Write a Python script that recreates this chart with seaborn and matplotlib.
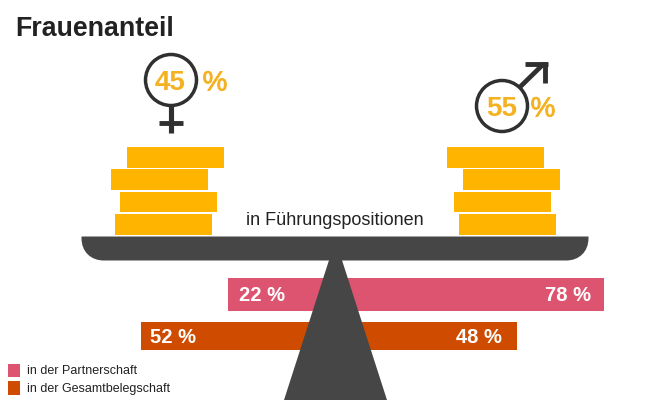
import matplotlib.pyplot as plt
import matplotlib.patheffects as pe
import pandas as pd
import seaborn as sns
from matplotlib.patches import Circle, PathPatch
from matplotlib.path import Path

# data
women_share = 45
men_share = 55
center_label = "in Führungspositionen"
rows = ["in der Partnerschaft", "in der Gesamtbelegschaft"]
women_values = [22, 52]
men_values = [78, 48]
bar_starts = [-28.8, -52]  # the two bars sit shifted against each other
coin_rows = ["a", "b", "c", "d"]
coin_width = 97
coins_left = [127, 111, 120, 114.5]
coins_right = [447, 463, 454, 459]

# colours
DARK = "#464646"
ICON = "#303030"
GOLD = "#FFB500"
GOLD_TEXT = "#F4B223"
PINK = "#DC5470"
ORANGE = "#CF4B00"
bar_colors = [PINK, ORANGE]
bar_heights = [0.80, 0.69]
pad_left = [2.8, 2.4]
pad_right = [3.6, 4.1]

sns.set_theme(style="white")
plt.rcParams["font.family"] = ["Liberation Sans", "DejaVu Sans"]

W, H = 670, 400
fig = plt.figure(figsize=(W / 100, H / 100), dpi=100, facecolor="white")


def px_axes(x, y, w, h, **kw):
    return fig.add_axes([x / W, 1 - (y + h) / H, w / W, h / H], **kw)


# Step 1: coins
ax_coins = px_axes(0, 146, W, 89.6)
for starts in (coins_left, coins_right):
    for row, start in zip(coin_rows, starts):
        df = pd.DataFrame({"row": [row], "width": [coin_width]})
        sns.barplot(data=df, x="width", y="row", order=coin_rows, orient="y", color=GOLD,
                    saturation=1, width=0.93, left=start, linewidth=0, errorbar=None, ax=ax_coins)
ax_coins.set_xlim(0, W)
ax_coins.set_ylim(3.5, -0.5)
ax_coins.set_axis_off()

# Step 2: percentage bars, 1 % = 3.76 px, zero at the pivot
ax_bars = px_axes(0, 273.9, W, 82.8)
for i, row in enumerate(rows):
    start = bar_starts[i]
    df = pd.DataFrame({"row": [row], "women": [women_values[i]], "men": [men_values[i]]})
    sns.barplot(data=df, x="women", y="row", order=rows, orient="y", color=bar_colors[i], saturation=1,
                width=bar_heights[i], left=start, linewidth=0, errorbar=None, label=row, legend=False, ax=ax_bars)
    sns.barplot(data=df, x="men", y="row", order=rows, orient="y", color=bar_colors[i], saturation=1,
                width=bar_heights[i], left=start + women_values[i], linewidth=0, errorbar=None, legend=False, ax=ax_bars)
    ax_bars.text(start + pad_left[i], i - 0.015, f"{women_values[i]} %", color="white", fontsize=14.5, fontweight="bold",
                 ha="left", va="center_baseline", zorder=5)
    ax_bars.text(start + 100 - pad_right[i], i - 0.015, f"{men_values[i]} %", color="white", fontsize=14.5, fontweight="bold",
                 ha="right", va="center_baseline", zorder=5)
ax_bars.set_xlim(-336.5 / 3.76, (W - 336.5) / 3.76)
ax_bars.set_ylim(1.5, -0.5)
handles, labels = ax_bars.get_legend_handles_labels()
if ax_bars.get_legend():
    ax_bars.get_legend().remove()
ax_bars.set_axis_off()

fig.legend(handles, labels, loc="upper left", bbox_to_anchor=(0, 1 - 356 / H), frameon=False, fontsize=9,
           handlelength=1.0, handleheight=1.3, handletextpad=0.55, labelspacing=0.27, borderpad=0.2,
           borderaxespad=0.4, labelcolor="#222222")

# Step 3: scale and symbols on top, in pixel coordinates
ax = px_axes(0, 0, W, H, zorder=10)
ax.set_xlim(0, W)
ax.set_ylim(H, 0)
ax.patch.set_alpha(0)
ax.set_axis_off()

# beam with rounded lower corners
beam_verts = [(81.5, 236.5), (588.5, 236.5), (588.5, 238), (588.5, 252), (579, 260.5), (566, 260.5),
              (104, 260.5), (91, 260.5), (81.5, 252), (81.5, 238), (81.5, 236.5)]
beam_codes = [Path.MOVETO, Path.LINETO, Path.LINETO, Path.CURVE4, Path.CURVE4, Path.CURVE4,
              Path.LINETO, Path.CURVE4, Path.CURVE4, Path.CURVE4, Path.CLOSEPOLY]
ax.add_patch(PathPatch(Path(beam_verts, beam_codes), facecolor=DARK, edgecolor="none"))
ax.fill([335.5, 284, 387], [240, 400, 400], color=DARK, linewidth=0)

# female sign
ax.add_patch(Circle((171, 80), 25.5, facecolor="none", edgecolor=ICON, linewidth=2.5))
ax.plot([171, 171], [106, 133], color=ICON, lw=3.7, solid_capstyle="butt")
ax.plot([158.5, 183], [122.5, 122.5], color=ICON, lw=3.5, solid_capstyle="butt")

# male sign
ax.add_patch(Circle((502, 106), 25.5, facecolor="none", edgecolor=ICON, linewidth=2.5))
ax.plot([520, 544], [87, 63.5], color=ICON, lw=3.4, solid_capstyle="butt")
ax.plot([525, 547.5], [63.5, 63.5], color=ICON, lw=3.5, solid_capstyle="butt")
ax.plot([545.3, 545.3], [62, 83], color=ICON, lw=3.5, solid_capstyle="butt")

# texts
thicker = [pe.withStroke(linewidth=0.6, foreground=GOLD_TEXT)]
ax.text(15.5, 36, "Frauenanteil", color="#222222", fontsize=19.3, fontweight="bold", ha="left", va="baseline")
ax.text(335, 225, center_label, color="#222222", fontsize=13, ha="center", va="baseline")
ax.text(170.5, 90, str(women_share), color=GOLD_TEXT, fontsize=20, fontweight="bold", ha="center", va="baseline")
ax.text(215, 90.5, "%", color=GOLD_TEXT, fontsize=20, ha="center", va="baseline", path_effects=thicker)
ax.text(502, 116, str(men_share), color=GOLD_TEXT, fontsize=20, fontweight="bold", ha="center", va="baseline")
ax.text(543, 116.5, "%", color=GOLD_TEXT, fontsize=20, ha="center", va="baseline", path_effects=thicker)

fig.savefig("out.png", dpi=100, facecolor="white")
